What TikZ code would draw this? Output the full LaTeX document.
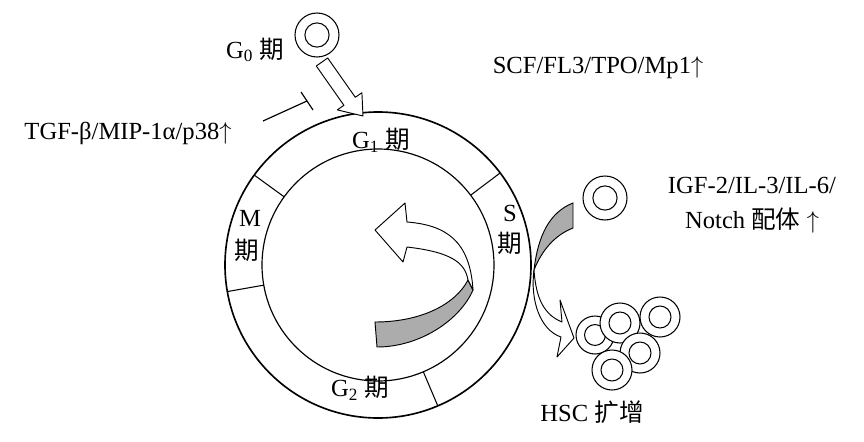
\documentclass[tikz,border=0pt]{standalone}
\usepackage{fontspec}
\usetikzlibrary{calc}
\setmainfont{Liberation Serif}
\newfontfamily\cjk{Noto Sans CJK SC}
\begin{document}
\begin{tikzpicture}[x=0.03cm,y=-0.03cm,
  lbl/.style={font=\fontsize{21}{24}\selectfont, inner sep=0pt},
  cellout/.style={draw, line width=0.9pt, fill=white},
  ribbon/.style={draw, line width=0.8pt, fill=gray!65},
  hol/.style={draw, line width=0.8pt, fill=white, line join=round}]
\useasboundingbox (0,0) rectangle (864,441);
% cycle
\coordinate (c) at (378,265);
\draw[line width=1.4pt] (c) circle[radius=153];
\draw[line width=1pt] (c) circle[radius=116];
\foreach \a in {-144,-190,-37,67}
  \draw[line width=0.9pt] ($(c)+(\a:116)$) -- ($(c)+(\a:153)$);
% inner curved arrow
\draw[ribbon] (375,322) .. controls (420,322) and (455,305) .. (468,280)
  -- (473,290) .. controls (460,320) and (420,347) .. (377,347) -- cycle;
\draw[hol] (468,280) .. controls (465,262) and (450,252) .. (407,247)
  -- (403,262) -- (375,230) -- (405,203) -- (407,222)
  .. controls (445,225) and (470,240) .. (473,290) -- cycle;
% S ribbon and exit arrow
\draw[ribbon] (534,270) .. controls (538,235) and (550,212) .. (573,203)
  -- (573,228) .. controls (555,235) and (542,250) .. (534,270) -- cycle;
\draw[hol] (534,270) .. controls (536,300) and (545,315) .. (562,322)
  -- (560,300) -- (574,338) -- (557,357) -- (561,337)
  .. controls (540,330) and (530,300) .. (534,270);
% cells
\foreach \p/\r in {{317,35}/22, {605,198}/22, {660,317}/20, {595,335}/19, {620,323}/20, {640,353}/20, {612,370}/20}{
  \draw[cellout] (\p) circle[radius=\r];
  \draw[line width=0.9pt] (\p) circle[radius=\r*0.55];
}
% G0 -> G1 hollow arrow
\draw[hol] (316.3,66) -- (343.9,105.3) -- (337.3,109.9) -- (363,116) -- (361.9,92.7) -- (355.3,97.3) -- (327.7,58) -- cycle;
% inhibition
\coordinate (inhA) at (263,121);
\coordinate (inhB) at (307,101);
\draw[line width=1pt] (inhA) -- (inhB);
\draw[line width=1pt] (301,92) -- (313,110);
% labels
\node[lbl] (g0) at (255,50) {G\textsubscript{0} {\cjk 期}};
\node[lbl] (scf) at (598,68) {SCF/FL3/TPO/Mp1$\uparrow$};
\node[lbl] (tgf) at (128,133) {TGF-β/MIP-1α/p38$\uparrow$};
\node[lbl] (g1) at (381,140) {G\textsubscript{1} {\cjk 期}};
\node[lbl] (m1) at (250,218) {M};
\node[lbl] (m2) at (247,250) {\cjk 期};
\node[lbl] (s1) at (510,213) {S};
\node[lbl] (s2) at (510,243) {\cjk 期};
\node[lbl] (g2) at (360,388) {G\textsubscript{2} {\cjk 期}};
\node[lbl] (hsc) at (592,412) {HSC {\cjk 扩增}};
\node[lbl, align=center] (igf) at (752,205) {IGF-2/IL-3/IL-6/\\[6pt]Notch {\cjk 配体} $\uparrow$};
\end{tikzpicture}
\end{document}
